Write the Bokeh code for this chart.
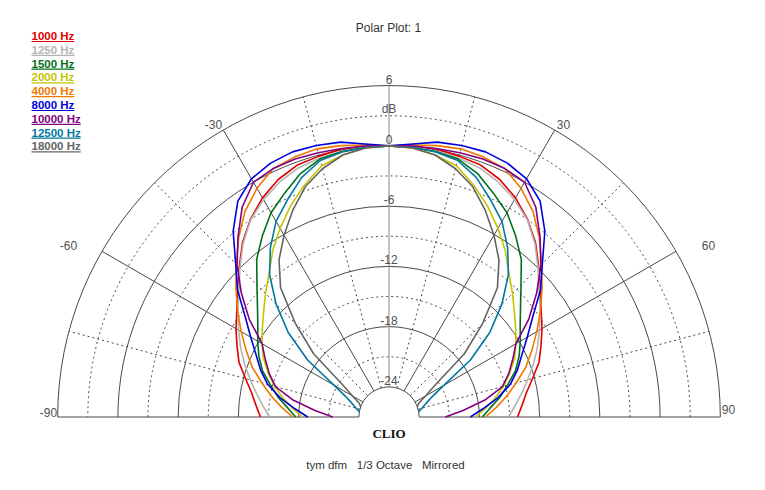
import numpy as np
from bokeh.plotting import figure
from bokeh.models import Range1d
from bokeh.core.properties import value
from bokeh.embed import file_html
from bokeh.resources import INLINE

# ---------------- data ----------------
ANGLES = [0, 5, 10, 15, 20, 25, 30, 35, 40, 45, 50, 55, 60, 65, 70, 75, 80, 85, 90]
nan = float("nan")

FREQ_LABELS = ["1000 Hz", "1250 Hz", "1500 Hz", "2000 Hz", "4000 Hz",
               "8000 Hz", "10000 Hz", "12500 Hz", "18000 Hz"]
COLORS = ["#e00000", "#b4b4b4", "#00701e", "#c4c400", "#f07800",
          "#0000dc", "#820082", "#0078a0", "#646464"]

db_1000 = [0, 0.05, 0.1, -0.1, -0.3, -0.9, -1.8, -2.95, -4.3, -5.9, -7.3, -8.5, -9.4, -10.3, -11.1, -12.2, -13.1, -13.7, -14.2]
db_1250 = [0, 0.0, -0.1, -0.3, -0.6, -1.2, -2.0, -3.0, -4.4, -6.0, -7.5, -8.6, -9.7, -10.7, -11.7, -12.7, -13.6, -14.4, -15.1]
db_1500 = [0, -0.05, -0.15, -0.4, -1.2, -2.4, -3.5, -5.0, -6.5, -8.4, -9.9, -11.05, -11.9, -12.7, -13.6, -14.8, -15.8, -16.9, -17.7]
db_2000 = [0, -0.1, -0.5, -1.1, -2.4, -3.8, -5.3, -6.8, -8.4, -9.6, -10.7, -11.6, -12.4, -13.2, -14.2, -15.2, -16.3, -17.4, -18.4]
db_4000 = [0, 0.2, 0.45, 0.65, 0.55, 0.3, -0.7, -2.0, -3.7, -5.5, -7.1, -8.6, -10.0, -11.3, -12.5, -13.9, -15.1, -16.3, -17.4]
db_8000 = [0, 0.3, 0.8, 1.0, 1.1, 0.9, 0.4, -0.75, -2.85, -5.4, -7.3, -9.5, -11.1, -12.4, -13.4, -14.5, -16.0, -17.6, -18.9]
db_10000 = [0, 0.1, 0.15, 0.25, 0.35, 0.3, 0.0, -1.5, -3.6, -5.6, -7.8, -10.0, -12.4, -13.4, -14.3, -15.3, -17.3, -19.6, -21.4]
db_12500 = [0, -0.05, -0.2, -0.55, -1.6, -3.1, -4.5, -6.4, -8.5, -11.1, -13.9, -17.1, -20.7, -22.3, -23.1, -23.6, -24.0, nan, nan]
db_18000 = [0, -0.1, -0.5, -1.4, -2.6, -4.3, -6.1, -7.9, -10.2, -13.8, -17.2, -21.3, -22.8, -23.7, -24.0, nan, nan, nan, nan]
SERIES = [db_1000, db_1250, db_1500, db_2000, db_4000, db_8000, db_10000, db_12500, db_18000]

DB_SOLID = [6, 0, -6, -12, -18, -24]
DB_DASHED = [3, -3, -9, -15, -21]
DB_TICK_VALUES = [6, 3, 0, -6, -12, -18, -24]
DB_TICK_TEXT = ["6", "dB", "0", "-6", "-12", "-18", "-24"]
ANG_SOLID = [-90, -60, -30, 0, 30, 60, 90]
ANG_DASHED = [-75, -45, -15, 15, 45, 75]
ANG_TICK_VALUES = [-90, -60, -30, 30, 60, 90]
ANG_TICK_TEXT = ["-90", "-60", "-30", "30", "60", "90"]

DB_MIN = -27.0   # radius origin (dB)
DB_MAX = 6.0
DB_HOLE = -24.0

# ---------------- geometry ----------------
K = 10.04              # px per dB
CX, CY = 388.5, 416.5  # centre in picture px
W, H = 749, 474


def px(xp, yp):
    return (xp - CX) / K, (CY - yp) / K


def rad(db):
    return np.asarray(db, dtype=float) - DB_MIN


def pol(db, ang_deg):
    r = rad(db)
    a = np.radians(np.asarray(ang_deg, dtype=float))
    return r * np.sin(a), r * np.cos(a)


p = figure(width=W, height=H, output_backend="svg", toolbar_location=None,
           x_range=Range1d((0 - CX) / K, (W - CX) / K),
           y_range=Range1d((CY - H) / K, (CY - 0) / K),
           min_border=0, background_fill_color="white", border_fill_color="white")
p.axis.visible = False
p.grid.visible = False
p.outline_line_color = None

GRID = "#484848"
# rings
for d in DB_SOLID:
    p.arc(x=0, y=0, radius=float(rad(d)), start_angle=0, end_angle=np.pi,
          line_color=GRID, line_width=1)
for d in DB_DASHED:
    p.arc(x=0, y=0, radius=float(rad(d)), start_angle=0, end_angle=np.pi,
          line_color=GRID, line_width=1, line_dash="2 3")
# radials
for a in ANG_SOLID:
    x0, y0 = pol(DB_HOLE, a)
    x1, y1 = pol(DB_MAX, a)
    p.segment(x0=[x0], y0=[y0], x1=[x1], y1=[y1],
              line_color="#888888" if a == 0 else GRID, line_width=1)
for a in ANG_DASHED:
    x0, y0 = pol(DB_HOLE, a)
    x1, y1 = pol(DB_MAX, a)
    p.segment(x0=[x0], y0=[y0], x1=[x1], y1=[y1],
              line_color=GRID, line_width=1, line_dash="2 3")

# curves (mirrored)
ang_full = np.concatenate([-np.array(ANGLES[::-1][:-1]), np.array(ANGLES)])
for vals, col in zip(SERIES, COLORS):
    v = np.array(vals, dtype=float)
    v_full = np.concatenate([v[::-1][:-1], v])
    xs, ys = pol(v_full, ang_full)
    p.line(xs, ys, line_color=col, line_width=1.6)

# dB tick labels on the vertical axis
FONT = value("Liberation Sans")
p.text(x=[0.0] * len(DB_TICK_VALUES),
       y=list(rad(DB_TICK_VALUES) + 6.5 / K),
       text=DB_TICK_TEXT, text_align="center", text_baseline="middle",
       text_font=FONT, text_font_size="12px", text_color="#505050")

# angle labels
lab_pos = {-90: (48, 411.5), 90: (728, 409), -60: (68, 245), 60: (708, 245),
           -30: (213, 124), 30: (563, 124)}
lx, ly = [], []
for a in ANG_TICK_VALUES:
    x, y = px(*lab_pos[a])
    lx.append(x)
    ly.append(y)
p.text(x=lx, y=ly, text=ANG_TICK_TEXT, text_align="center", text_baseline="middle",
       text_font=FONT, text_font_size="12px", text_color="#505050")

# title & footers
tx, ty = px(388, 27)
p.text(x=[tx], y=[ty], text=["Polar Plot: 1"], text_align="center", text_baseline="middle",
       text_font=FONT, text_font_size="12px", text_color="#333333")
cx_, cy_ = px(388.5, 432.5)
p.text(x=[cx_], y=[cy_], text=["CLIO"], text_align="center", text_baseline="middle",
       text_font=value("Liberation Serif"), text_font_style="bold",
       text_font_size="13px", text_color="#111111")
fx, fy = px(385, 464.5)
p.text(x=[fx], y=[fy], text=["tym dfm\u00a0\u00a0 1/3 Octave\u00a0\u00a0 Mirrored"],
       text_align="center", text_baseline="middle",
       text_font=FONT, text_font_size="11.5px", text_color="#333333")

# legend
CW = {"0": .556, "1": .556, "2": .556, "4": .556, "5": .556, "8": .556,
      " ": .278, "H": .722, "z": .5}
FS = 11.5
for i, (lab, col) in enumerate(zip(FREQ_LABELS, COLORS)):
    yc = 35.5 + 13.8 * i
    x0, y0 = px(31, yc)
    p.text(x=[x0], y=[y0], text=[lab], text_align="left", text_baseline="middle",
           text_font=FONT, text_font_style="bold", text_font_size=f"{FS}px",
           text_color=col)
    wpx = sum(CW.get(c, .556) for c in lab) * FS
    ux0, uy = px(31, yc + 5.5)
    ux1, _ = px(31 + wpx, yc + 5.5)
    p.segment(x0=[ux0], y0=[uy], x1=[ux1], y1=[uy], line_color=col, line_width=1.2)

open("out.html", "w").write(file_html(p, INLINE))
